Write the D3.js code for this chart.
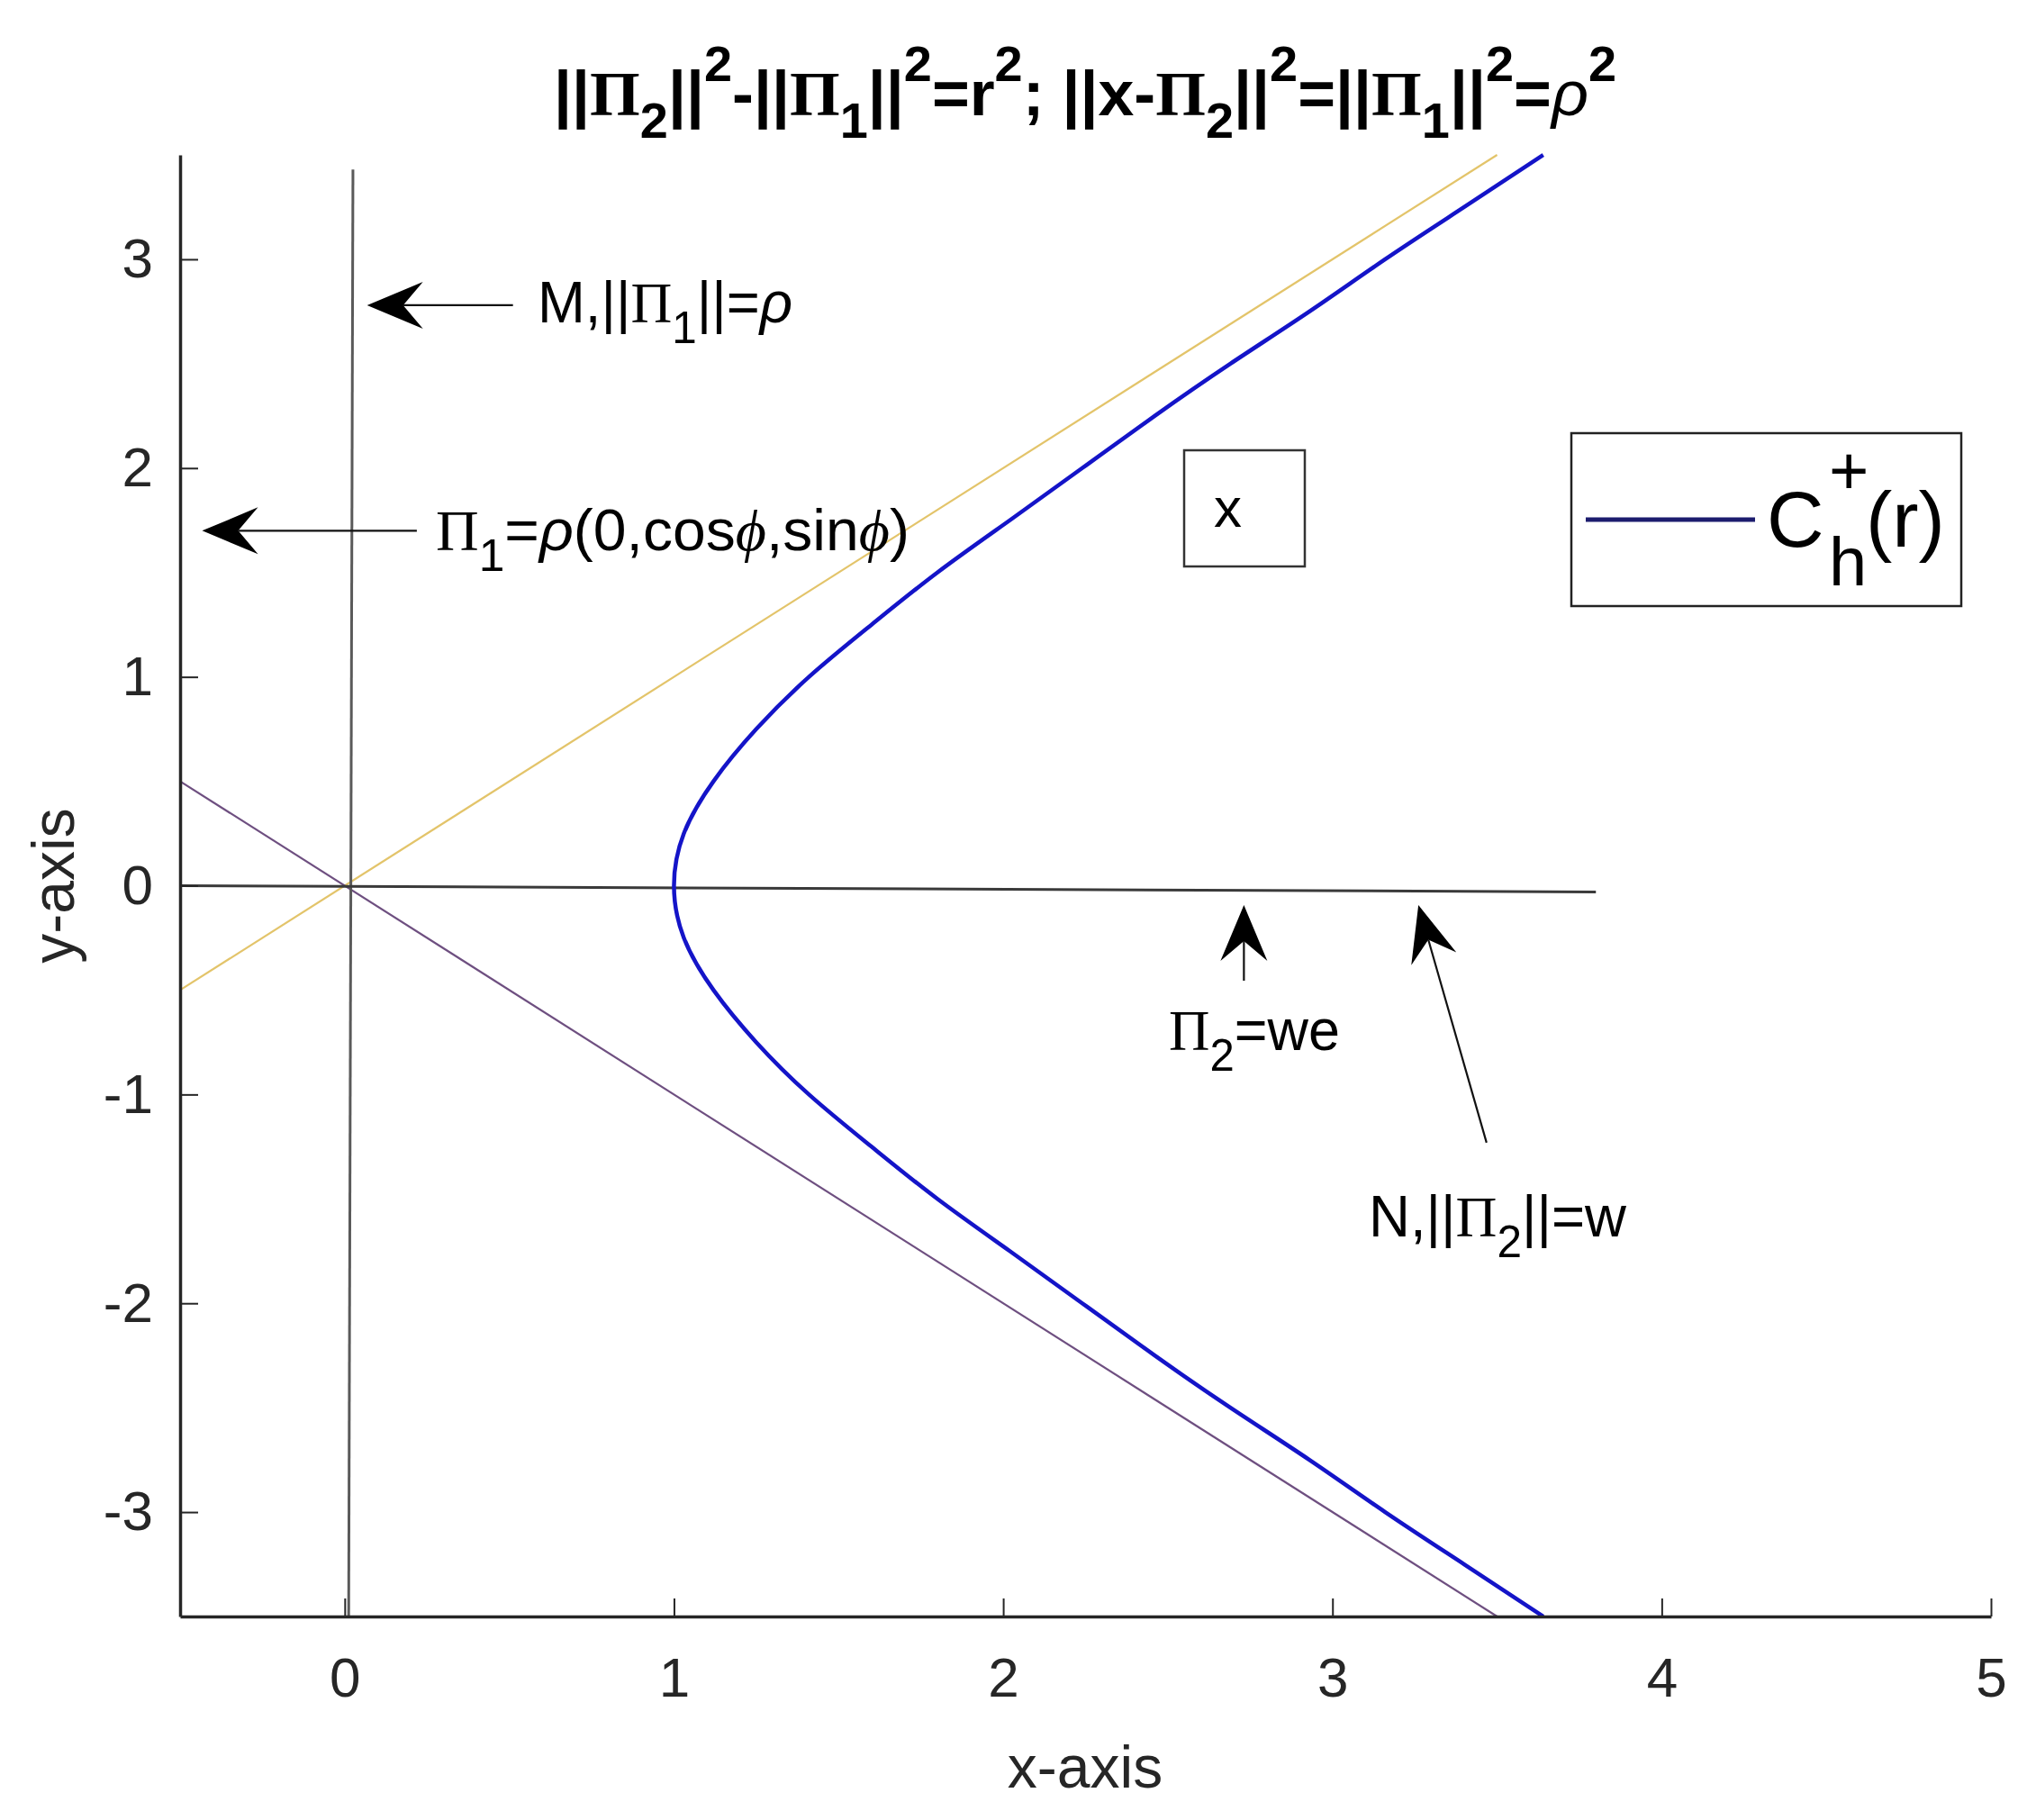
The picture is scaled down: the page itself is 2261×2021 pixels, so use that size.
<!DOCTYPE html>
<html><head><meta charset="utf-8">
<script src="https://cdn.jsdelivr.net/npm/d3@7"></script>
<style>body{margin:0;background:#fff} svg{display:block}</style>
</head><body>
<svg id="c" width="2261" height="2021"></svg>
<script>
// ---- data ----
const xTicks = [0, 1, 2, 3, 4, 5];
const yTicks = [-3, -2, -1, 0, 1, 2, 3];
// blue curve C_h^+(r): points read along the drawn branch
const curveY = [-3.5, -3.25, -3.0, -2.75, -2.5, -2.25, -2.0, -1.75, -1.5, -1.25, -1.0, -0.75, -0.5, -0.25, 0, 0.25, 0.5, 0.75, 1.0, 1.25, 1.5, 1.75, 2.0, 2.25, 2.5, 2.75, 3.0, 3.25, 3.5];
const curveX = [3.64, 3.40, 3.16, 2.93, 2.69, 2.46, 2.24, 2.02, 1.80, 1.60, 1.41, 1.25, 1.12, 1.03, 1.00, 1.03, 1.12, 1.25, 1.41, 1.60, 1.80, 2.02, 2.24, 2.46, 2.69, 2.93, 3.16, 3.40, 3.64];
// yellow line
const upLineX = [-0.5, 3.5];
const upLineY = [-0.5, 3.5];
// purple line
const downLineX = [-0.5, 3.5];
const downLineY = [0.5, -3.5];
// vertical plane line M
const mLineX = [0.025, 0.012];
const mLineY = [3.43, -3.5];
// horizontal line N
const nLineX = [-0.5, 3.8];
const nLineY = [0.0, -0.03];

// ---- drawing ----
const svg = d3.select('#c');
const x = d3.scaleLinear().domain([-0.5, 5]).range([200, 2211]);
const y = d3.scaleLinear().domain([-3.5, 3.5]).range([1795, 172]);
const SANS = 'Liberation Sans, Arial, sans-serif';
const SERIF = 'Liberation Serif, Times New Roman, serif';
const AX = '#262626';

function seg(xs, ys, color, w) {
  const pts = xs.map((v, i) => [v, ys[i]]);
  svg.append('path').datum(pts)
    .attr('d', d3.line().x(d => x(d[0])).y(d => y(d[1])))
    .attr('fill', 'none').attr('stroke', color).attr('stroke-width', w);
}
seg(upLineX, upLineY, '#e3c46a', 2.2);
seg(downLineX, downLineY, '#6e4f80', 2.2);
seg(mLineX, mLineY, '#5a5a5a', 3);
seg(nLineX, nLineY, '#3a3a3a', 3);

const cpts = curveX.map((v, i) => [v, curveY[i]]);
svg.append('path').datum(cpts)
  .attr('d', d3.line().x(d => x(d[0])).y(d => y(d[1])).curve(d3.curveNatural))
  .attr('fill', 'none').attr('stroke', '#1414c8').attr('stroke-width', 4.5);

// axes
const gx = svg.append('g').attr('transform', `translate(0,${y(-3.5)})`)
  .call(d3.axisBottom(x).tickValues(xTicks).tickSize(-20).tickSizeOuter(0).tickPadding(45).tickFormat(d3.format('d')));
const gy = svg.append('g').attr('transform', `translate(${x(-0.5)},0)`)
  .call(d3.axisLeft(y).tickValues(yTicks).tickSize(-20).tickSizeOuter(0).tickPadding(30).tickFormat(d => d < 0 ? '-' + Math.abs(d) : d));
[gx, gy].forEach(g => {
  g.select('.domain').attr('stroke', AX).attr('stroke-width', 3.5);
  g.selectAll('.tick line').attr('stroke', AX).attr('stroke-width', 2);
  g.selectAll('.tick text').attr('fill', AX).style('font-family', SANS).style('font-size', '62px');
});

// axis labels
svg.append('text').attr('x', 1205).attr('y', 1985).attr('text-anchor', 'middle')
  .style('font-family', SANS).style('font-size', '66px').attr('fill', AX).text('x-axis');
svg.append('text').attr('transform', `translate(82,${y(0)}) rotate(-90)`).attr('text-anchor', 'middle')
  .style('font-family', SANS).style('font-size', '66px').attr('fill', AX).text('y-axis');

// rich text helper
function rich(parent, px, py, size, parts, opts = {}) {
  const t = parent.append('text').attr('x', px).attr('y', py)
    .style('font-family', SANS).style('font-size', size + 'px').attr('fill', opts.fill || '#000');
  if (opts.anchor) t.attr('text-anchor', opts.anchor);
  if (opts.bold) t.style('font-weight', 'bold');
  let cur = 0;
  parts.forEach(p => {
    const s = t.append('tspan').text(p.t);
    let target = 0, fs = size;
    if (p.sub) { target = size * 0.36; fs = size * (p.scale || 0.78); }
    if (p.sup) { target = -size * 0.55; fs = size * (p.scale || 0.78); }
    s.attr('dy', target - cur); cur = target;
    s.style('font-size', fs + 'px');
    if (p.serif) s.style('font-family', SERIF);
    if (p.it) s.style('font-style', 'italic').style('font-weight', 'normal');
  });
  if (opts.len) t.attr('textLength', opts.len).attr('lengthAdjust', 'spacingAndGlyphs');
  return t;
}

// title
rich(svg, 1205, 128, 70, [
  {t: '||'}, {t: 'Π', serif: true}, {t: '2', sub: 1}, {t: '||'}, {t: '2', sup: 1},
  {t: '-||'}, {t: 'Π', serif: true}, {t: '1', sub: 1}, {t: '||'}, {t: '2', sup: 1},
  {t: '=r'}, {t: '2', sup: 1}, {t: '; ||x-'}, {t: 'Π', serif: true}, {t: '2', sub: 1},
  {t: '||'}, {t: '2', sup: 1}, {t: '=||'}, {t: 'Π', serif: true}, {t: '1', sub: 1},
  {t: '||'}, {t: '2', sup: 1}, {t: '='}, {t: 'ρ', it: 1}, {t: '2', sup: 1}
], {anchor: 'middle', bold: true, len: 1180});

// arrows
function arrow(x1, y1, x2, y2) {
  const X1 = x(x1), Y1 = y(y1), X2 = x(x2), Y2 = y(y2);
  const ang = Math.atan2(Y2 - Y1, X2 - X1);
  const L = 62, W = 26, N = 40;
  svg.append('line').attr('x1', X1).attr('y1', Y1)
    .attr('x2', X2 - Math.cos(ang) * N).attr('y2', Y2 - Math.sin(ang) * N)
    .attr('stroke', '#111').attr('stroke-width', 2.2);
  const g = svg.append('g').attr('transform', `translate(${X2},${Y2}) rotate(${ang * 180 / Math.PI})`);
  g.append('path').attr('d', `M0,0 L${-L},${-W} L${-N},0 L${-L},${W} Z`).attr('fill', '#000');
}
arrow(0.511, 2.78, 0.068, 2.78);
arrow(0.219, 1.70, -0.433, 1.70);
arrow(2.731, -0.455, 2.731, -0.093);
arrow(3.468, -1.231, 3.261, -0.093);

// annotation texts
const AS = 64;
rich(svg, 597, 358, AS, [
  {t: 'M,||'}, {t: 'Π', serif: true}, {t: '1', sub: 1}, {t: '||='}, {t: 'ρ', it: 1}
], {len: 283});
rich(svg, 484, 611, AS, [
  {t: 'Π', serif: true}, {t: '1', sub: 1}, {t: '='}, {t: 'ρ', it: 1}, {t: '(0,cos'}, {t: 'ϕ', it: 1, serif: true}, {t: ',sin'}, {t: 'ϕ', it: 1, serif: true}, {t: ')'}
], {len: 526});
rich(svg, 1298, 1166, AS, [
  {t: 'Π', serif: true}, {t: '2', sub: 1}, {t: '=we'}
], {len: 190});
rich(svg, 1520, 1373, AS, [
  {t: 'N,||'}, {t: 'Π', serif: true}, {t: '2', sub: 1}, {t: '||=w'}
], {len: 286});

// text box "x"
svg.append('rect').attr('x', 1315).attr('y', 500).attr('width', 134).attr('height', 129)
  .attr('fill', 'none').attr('stroke', '#333').attr('stroke-width', 2.5);
svg.append('text').attr('x', 1348).attr('y', 585).style('font-family', SANS).style('font-size', '62px').text('x');

// legend
svg.append('rect').attr('x', 1745).attr('y', 481).attr('width', 433).attr('height', 192)
  .attr('fill', '#fff').attr('stroke', '#222').attr('stroke-width', 2.5);
svg.append('line').attr('x1', 1761).attr('x2', 1949).attr('y1', 577).attr('y2', 577)
  .attr('stroke', '#1c1c6e').attr('stroke-width', 5);
const lt = svg.append('text').attr('x', 1962).attr('y', 607).style('font-family', SANS).style('font-size', '88px').attr('fill', '#000');
lt.append('tspan').text('C');
lt.append('tspan').attr('x', 2031).attr('dy', -58).style('font-size', '76px').text('+');
lt.append('tspan').attr('x', 2031).attr('dy', 101).style('font-size', '76px').text('h');
lt.append('tspan').attr('x', 2072).attr('dy', -43).text('(r)');
</script>
</body></html>
